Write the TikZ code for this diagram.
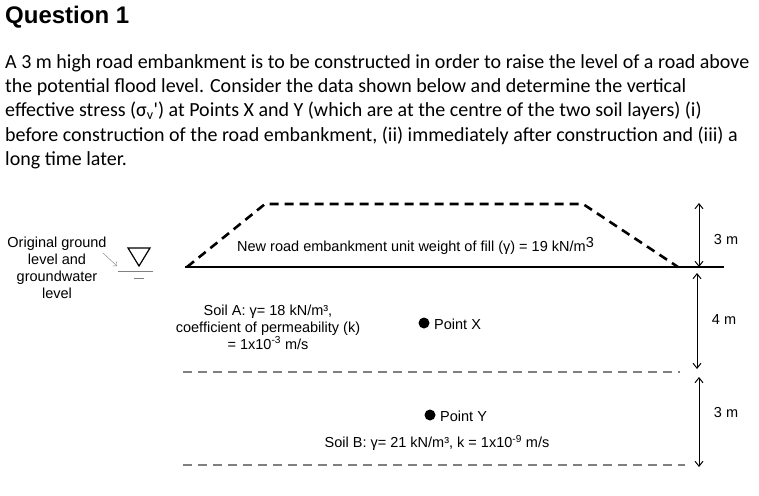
\documentclass[tikz,border=0pt]{standalone}
\usepackage{fontspec}
\usetikzlibrary{arrows.meta}
\setmainfont{Liberation Sans}
\newfontfamily\bodyf{Carlito}
\begin{document}
\begin{tikzpicture}[x=1pt,y=-1pt,
  lbl/.style={font=\fontsize{14.5}{17}\selectfont,inner sep=0pt},
  para/.style={font=\bodyf\fontsize{20}{24.5}\selectfont,anchor=west,inner sep=0pt},
  fill line/.style={line width=2.6pt,dash pattern=on 9pt off 6pt},
  layer/.style={gray,line width=2.6pt,dash pattern=on 9pt off 6pt},
  dim/.style={<->,>={Straight Barb[length=5pt,width=8pt]},line width=1pt}]
\useasboundingbox (0,0) rectangle (759,495);
\node[anchor=west,inner sep=0pt,font=\bfseries\fontsize{24}{28}\selectfont] (title) at (5,17) {Question 1};
\node[para] (p1) at (5,63) {A 3 m high road embankment is to be constructed in order to raise the level of a road above};
\node[para] (p2) at (5,87) {the potential flood level. Consider the data shown below and determine the vertical};
\node[para] (p3) at (5,111) {effective stress (σ\textsubscript{v}') at Points X and Y (which are at the centre of the two soil layers) (i)};
\node[para] (p4) at (5,136) {before construction of the road embankment, (ii) immediately after construction and (iii) a};
\node[para] (p5) at (5,160) {long time later.};
% ground
\coordinate (g1) at (185,267); \coordinate (g2) at (724,267);
\draw[line width=2.8pt] (g1) -- (g2);
\coordinate (e1) at (187,267); \coordinate (e2) at (265,204);
\coordinate (e3) at (583,204); \coordinate (e4) at (678,267);
\draw[fill line] (e1) -- (e2) -- (e3) -- (e4);
% water symbol
\draw[line width=1.2pt] (128,248) -- (150,248) -- (139,266) -- cycle;
\draw[gray,line width=1pt] (118,271) -- (153,271);
\draw[gray,line width=1pt] (134,278) -- (144,278);
% label
\node[lbl,align=center,font=\fontsize{14.5}{17}\selectfont] (og) at (57,268) {Original ground\\level and\\groundwater\\level};
\coordinate (ogt) at (117,266);
\draw[gray,->,>={Straight Barb[length=3pt]}] (103,253) -- (ogt);
% layers
\coordinate (l1a) at (183,372); \coordinate (l1b) at (680,372);
\coordinate (l2a) at (183,465); \coordinate (l2b) at (685,465);
\draw[layer] (l1a) -- (l1b);
\draw[layer] (l2a) -- (l2b);
% dims
\coordinate (d1) at (699,203); \coordinate (d2) at (699,267);
\coordinate (d3) at (697,273); \coordinate (d4) at (697,369);
\coordinate (d5) at (699,377); \coordinate (d6) at (699,467);
\draw[dim] (d1) -- (d2);
\draw[dim] (d3) -- (d4);
\draw[dim] (d5) -- (d6);
\node[lbl] (m1) at (726,240) {3 m};
\node[lbl] (m2) at (724,320) {4 m};
\node[lbl] (m3) at (726,413) {3 m};
% texts
\node[lbl,anchor=west] (fill) at (237,246) {New road embankment unit weight of fill (γ) = 19 kN/m\raisebox{0.5ex}{3}};
\node[lbl,align=center] (sa) at (268,327) {Soil A: γ= 18 kN/m³,\\coefficient of permeability (k)\\= 1x10\textsuperscript{-3} m/s};
\fill (424,323) circle (5.5pt);
\node[lbl,anchor=west] (px) at (434,324) {Point X};
\fill (430,415) circle (5.5pt);
\node[lbl,anchor=west] (py) at (440,416) {Point Y};
\node[lbl] (sb) at (437,443) {Soil B: γ= 21 kN/m³, k = 1x10\textsuperscript{-9} m/s};
\end{tikzpicture}
\end{document}
